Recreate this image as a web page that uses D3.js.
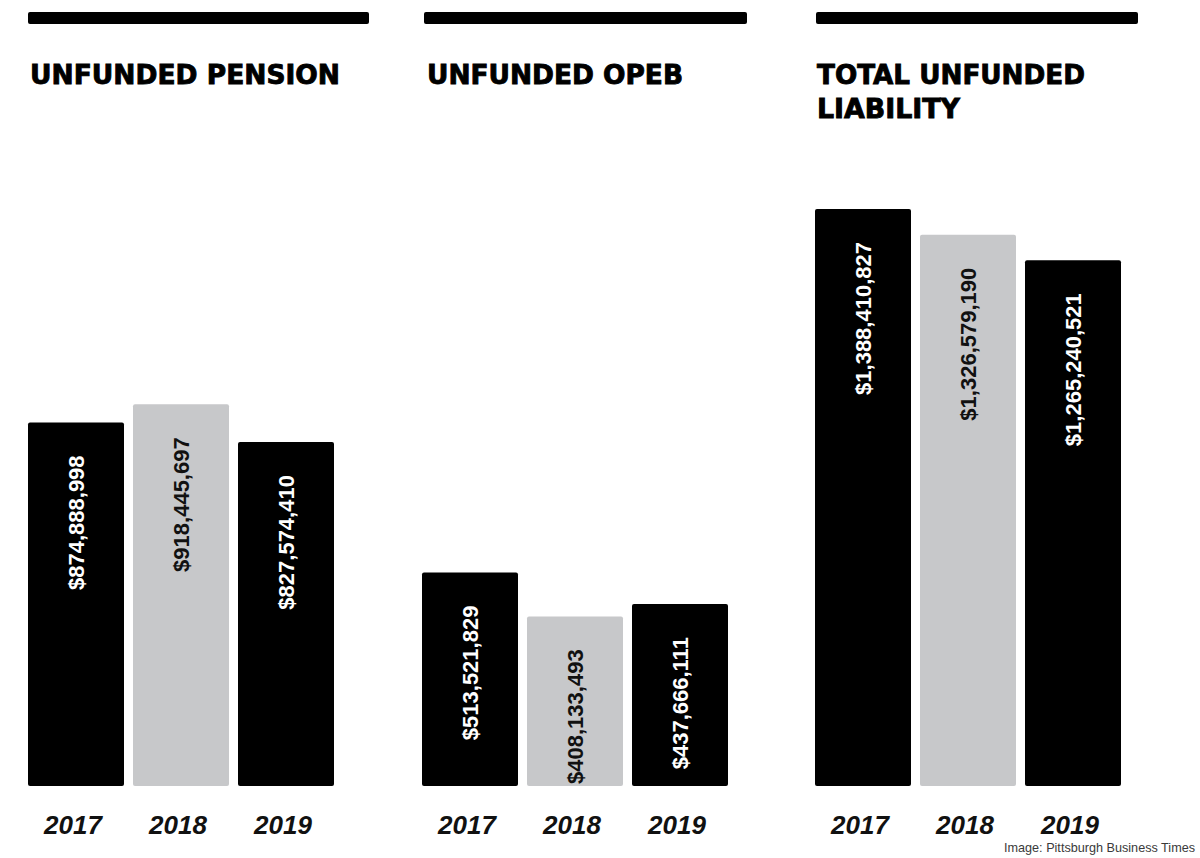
<!DOCTYPE html>
<html>
<head>
<meta charset="utf-8">
<script src="https://cdn.jsdelivr.net/npm/d3@7"></script>
<style>
  html, body { margin: 0; padding: 0; background: #fff; }
  svg { display: block; }
</style>
</head>
<body>
<svg id="chart" width="1200" height="858"></svg>
<script>
// ---- data ----
const years = ["2017", "2018", "2019"];
const pension = [874888998, 918445697, 827574410];
const opeb = [513521829, 408133493, 437666111];
const total = [1388410827, 1326579190, 1265240521];
const pensionLabels = ["$874,888,998", "$918,445,697", "$827,574,410"];
const opebLabels = ["$513,521,829", "$408,133,493", "$437,666,111"];
const totalLabels = ["$1,388,410,827", "$1,326,579,190", "$1,265,240,521"];
const titles = [["UNFUNDED PENSION"], ["UNFUNDED OPEB"], ["TOTAL UNFUNDED", "LIABILITY"]];
const credit = "Image: Pittsburgh Business Times";

// ---- layout ----
const svg = d3.select("#chart");
const baseY = 786;
const y = d3.scaleLinear().domain([0, 1388410827]).range([baseY, 209]);
const barFill = ["#000000", "#c7c8ca", "#000000"];
const labelFill = ["#ffffff", "#111111", "#ffffff"];

const panels = [
  { values: pension, labels: pensionLabels, title: titles[0], barX: 28, rule: [28, 369], titleX: 30, titleW: [310] },
  { values: opeb, labels: opebLabels, title: titles[1], barX: 422, rule: [424, 747], titleX: 427, titleW: [256] },
  { values: total, labels: totalLabels, title: titles[2], barX: 815, rule: [816, 1138], titleX: 817, titleW: [268, 143] }
];

panels.forEach(p => {
  const g = svg.append("g");
  // top rule
  g.append("rect")
    .attr("x", p.rule[0]).attr("y", 12)
    .attr("width", p.rule[1] - p.rule[0]).attr("height", 12)
    .attr("rx", 2)
    .attr("fill", "#000");
  // title
  p.title.forEach((t, i) => {
    g.append("text")
      .attr("x", p.titleX).attr("y", 84 + i * 34)
      .attr("font-family", "'DejaVu Sans', sans-serif")
      .attr("font-weight", 900)
      .attr("font-size", 27)
      .attr("fill", "#000")
      .attr("stroke", "#000").attr("stroke-width", 0.9)
      .attr("textLength", p.titleW[i])
      .attr("lengthAdjust", "spacingAndGlyphs")
      .text(t);
  });

  const x = d3.scaleBand().domain(years).range([p.barX, p.barX + 306]).paddingInner(9 / 105).paddingOuter(0);

  const data = years.map((yr, i) => ({ yr, v: p.values[i], lab: p.labels[i], i }));

  g.selectAll("rect.bar").data(data).join("rect")
    .attr("class", "bar")
    .attr("x", d => x(d.yr))
    .attr("y", d => y(d.v))
    .attr("width", x.bandwidth())
    .attr("height", d => baseY - y(d.v))
    .attr("rx", 2)
    .attr("fill", d => barFill[d.i]);

  g.selectAll("text.val").data(data).join("text")
    .attr("class", "val")
    .attr("transform", d => `translate(${x(d.yr) + x.bandwidth() / 2},${y(d.v) + 33}) rotate(-90)`)
    .attr("text-anchor", "end")
    .attr("dy", "0.36em")
    .attr("font-family", "'Liberation Sans', Arial, sans-serif")
    .attr("font-weight", "bold")
    .attr("font-size", 22)
    .attr("fill", d => labelFill[d.i])
    .text(d => d.lab);

  g.selectAll("text.yr").data(data).join("text")
    .attr("class", "yr")
    .attr("x", d => x(d.yr) + x.bandwidth() / 2 - 3)
    .attr("y", 834)
    .attr("text-anchor", "middle")
    .attr("font-family", "'Liberation Sans', Arial, sans-serif")
    .attr("font-weight", "bold")
    .attr("font-style", "italic")
    .attr("font-size", 26)
    .attr("fill", "#111")
    .text(d => d.yr);
});

svg.append("text")
  .attr("x", 1195).attr("y", 852)
  .attr("text-anchor", "end")
  .attr("font-family", "'Liberation Sans', Arial, sans-serif")
  .attr("font-size", 13)
  .attr("fill", "#3a3a3a")
  .attr("textLength", 191)
  .attr("lengthAdjust", "spacingAndGlyphs")
  .text(credit);
</script>
</body>
</html>
